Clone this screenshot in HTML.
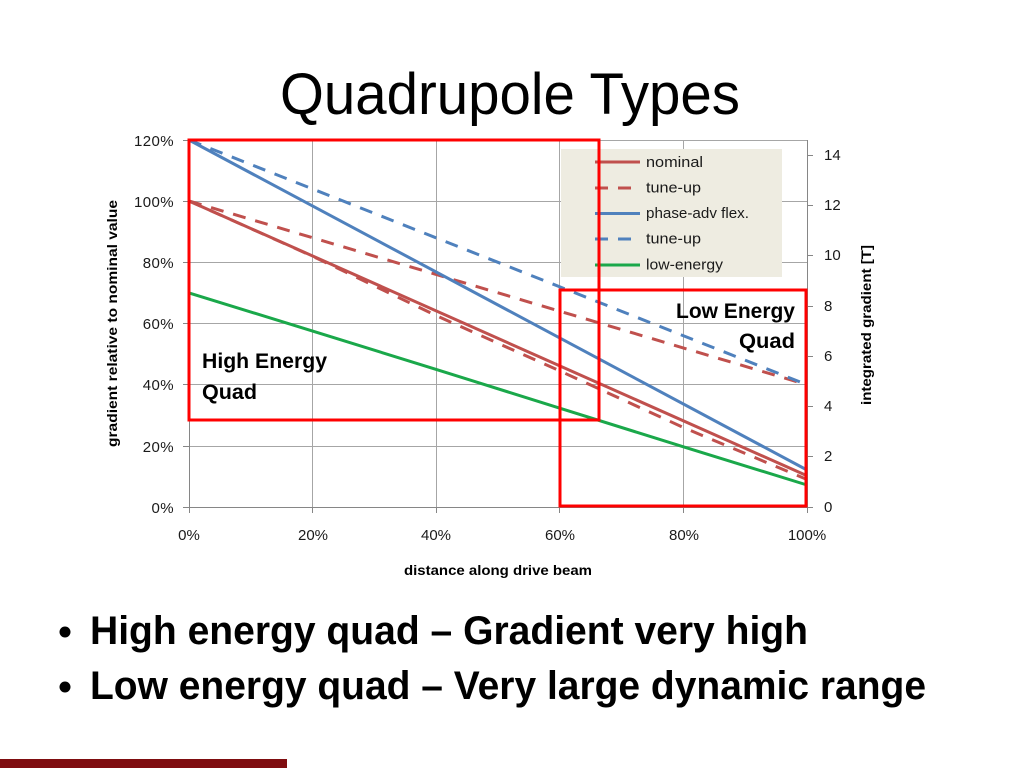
<!DOCTYPE html>
<html>
<head>
<meta charset="utf-8">
<style>
  html, body { margin:0; padding:0; background:#ffffff; }
  svg { display:block; }
  text { font-family: "Liberation Sans", sans-serif; }
</style>
</head>
<body>
<svg width="1024" height="768" viewBox="0 0 1024 768" xmlns="http://www.w3.org/2000/svg">
  <rect x="0" y="0" width="1024" height="768" fill="#ffffff"/>

  <!-- Title -->
  <text x="280" y="114" font-size="58" fill="#000" textLength="460" lengthAdjust="spacingAndGlyphs">Quadrupole Types</text>

  <!-- Gridlines -->
  <g stroke="#a6a6a6" stroke-width="1" fill="none">
    <line x1="189" y1="140.5" x2="807" y2="140.5"/>
    <line x1="189" y1="201.5" x2="807" y2="201.5"/>
    <line x1="189" y1="262.5" x2="807" y2="262.5"/>
    <line x1="189" y1="323.5" x2="807" y2="323.5"/>
    <line x1="189" y1="384.5" x2="807" y2="384.5"/>
    <line x1="189" y1="446.5" x2="807" y2="446.5"/>
    <line x1="312.5" y1="140" x2="312.5" y2="507"/>
    <line x1="436.5" y1="140" x2="436.5" y2="507"/>
    <line x1="559.5" y1="140" x2="559.5" y2="507"/>
    <line x1="683.5" y1="140" x2="683.5" y2="507"/>
  </g>
  <!-- Axes -->
  <g stroke="#868686" stroke-width="1" fill="none">
    <line x1="189.5" y1="140" x2="189.5" y2="507"/>
    <line x1="189" y1="507.5" x2="807" y2="507.5"/>
    <line x1="807.5" y1="140" x2="807.5" y2="507"/>
    <!-- left ticks -->
    <line x1="183" y1="140.5" x2="189" y2="140.5"/>
    <line x1="183" y1="201.5" x2="189" y2="201.5"/>
    <line x1="183" y1="262.5" x2="189" y2="262.5"/>
    <line x1="183" y1="323.5" x2="189" y2="323.5"/>
    <line x1="183" y1="384.5" x2="189" y2="384.5"/>
    <line x1="183" y1="446.5" x2="189" y2="446.5"/>
    <line x1="183" y1="507.5" x2="189" y2="507.5"/>
    <!-- bottom ticks -->
    <line x1="189.5" y1="507" x2="189.5" y2="513"/>
    <line x1="312.5" y1="507" x2="312.5" y2="513"/>
    <line x1="436.5" y1="507" x2="436.5" y2="513"/>
    <line x1="559.5" y1="507" x2="559.5" y2="513"/>
    <line x1="683.5" y1="507" x2="683.5" y2="513"/>
    <line x1="807.5" y1="507" x2="807.5" y2="513"/>
    <!-- right ticks -->
    <line x1="807" y1="155.5" x2="813" y2="155.5"/>
    <line x1="807" y1="205.5" x2="813" y2="205.5"/>
    <line x1="807" y1="255.5" x2="813" y2="255.5"/>
    <line x1="807" y1="306.5" x2="813" y2="306.5"/>
    <line x1="807" y1="356.5" x2="813" y2="356.5"/>
    <line x1="807" y1="406.5" x2="813" y2="406.5"/>
    <line x1="807" y1="456.5" x2="813" y2="456.5"/>
    <line x1="807" y1="507.5" x2="813" y2="507.5"/>
  </g>

  <!-- Series -->
  <g fill="none" stroke-width="3" stroke-linejoin="round">
    <!-- green low-energy -->
    <polyline stroke="#1aa84a" points="189,292.9 312.6,331.1 436.2,369.4 559.8,408.2 683.4,446.8 807,485"/>
    <!-- nominal -->
    <line stroke="#c0504d" x1="189" y1="201" x2="807" y2="475.8"/>
    <!-- tune-up lower -->
    <polyline stroke="#c0504d" stroke-dasharray="13 10" points="189,201 312.6,256.2 436.2,315.6 559.8,370.9 683.4,427.5 807,479.5"/>
    <!-- tune-up upper (red) -->
    <line stroke="#c0504d" stroke-dasharray="13 10" x1="189" y1="201" x2="807" y2="384.7"/>
    <!-- phase-adv flex -->
    <line stroke="#4f81bd" x1="189" y1="140" x2="807" y2="470"/>
    <!-- tune-up blue -->
    <line stroke="#4f81bd" stroke-dasharray="13 10" x1="189" y1="140" x2="807" y2="384.7"/>
  </g>

  <!-- Legend -->
  <rect x="561" y="149" width="221" height="128" fill="#eeece1"/>
  <g stroke-width="3" fill="none">
    <line stroke="#c0504d" x1="595" y1="162" x2="640" y2="162"/>
    <line stroke="#c0504d" stroke-dasharray="13 10" x1="595" y1="188" x2="640" y2="188"/>
    <line stroke="#4f81bd" x1="595" y1="213.5" x2="640" y2="213.5"/>
    <line stroke="#4f81bd" stroke-dasharray="13 10" x1="595" y1="239" x2="640" y2="239"/>
    <line stroke="#1aa84a" x1="595" y1="265" x2="640" y2="265"/>
  </g>
  <g font-size="15" fill="#1a1a1a">
    <text x="646" y="167" textLength="57" lengthAdjust="spacingAndGlyphs">nominal</text>
    <text x="646" y="192.5" textLength="55" lengthAdjust="spacingAndGlyphs">tune-up</text>
    <text x="646" y="218" textLength="103" lengthAdjust="spacingAndGlyphs">phase-adv flex.</text>
    <text x="646" y="243.5" textLength="55" lengthAdjust="spacingAndGlyphs">tune-up</text>
    <text x="646" y="269.5" textLength="77" lengthAdjust="spacingAndGlyphs">low-energy</text>
  </g>

  <!-- Red boxes -->
  <g fill="none" stroke="#ff0000" stroke-width="3">
    <rect x="189" y="140" width="410" height="280"/>
    <rect x="560" y="290" width="246" height="216"/>
  </g>

  <!-- Box labels -->
  <g font-size="21" font-weight="bold" fill="#000">
    <text x="202" y="368" textLength="125" lengthAdjust="spacingAndGlyphs">High Energy</text>
    <text x="202" y="399" textLength="55" lengthAdjust="spacingAndGlyphs">Quad</text>
    <text x="676" y="318" textLength="119" lengthAdjust="spacingAndGlyphs">Low Energy</text>
    <text x="739" y="348" textLength="56" lengthAdjust="spacingAndGlyphs">Quad</text>
  </g>

  <!-- Left axis labels -->
  <g font-size="15" fill="#1a1a1a" text-anchor="end">
    <text x="174" y="146" letter-spacing="0.4">120%</text>
    <text x="174" y="207" letter-spacing="0.4">100%</text>
    <text x="174" y="268" letter-spacing="0.4">80%</text>
    <text x="174" y="329" letter-spacing="0.4">60%</text>
    <text x="174" y="390" letter-spacing="0.4">40%</text>
    <text x="174" y="452" letter-spacing="0.4">20%</text>
    <text x="174" y="513" letter-spacing="0.4">0%</text>
  </g>
  <!-- Bottom axis labels -->
  <g font-size="15" fill="#1a1a1a" text-anchor="middle">
    <text x="189" y="540">0%</text>
    <text x="313" y="540">20%</text>
    <text x="436" y="540">40%</text>
    <text x="560" y="540">60%</text>
    <text x="684" y="540">80%</text>
    <text x="807" y="540">100%</text>
  </g>
  <!-- Right axis labels -->
  <g font-size="15" fill="#1a1a1a">
    <text x="824" y="160">14</text>
    <text x="824" y="210">12</text>
    <text x="824" y="260">10</text>
    <text x="824" y="311">8</text>
    <text x="824" y="361">6</text>
    <text x="824" y="411">4</text>
    <text x="824" y="461">2</text>
    <text x="824" y="512">0</text>
  </g>

  <!-- Axis titles -->
  <text transform="translate(117,323.5) rotate(-90)" text-anchor="middle" font-size="13.5" font-weight="bold" fill="#000" textLength="247" lengthAdjust="spacingAndGlyphs">gradient relative to nominal value</text>
  <text transform="translate(871,325) rotate(-90)" text-anchor="middle" font-size="13.5" font-weight="bold" fill="#000" textLength="160" lengthAdjust="spacingAndGlyphs">integrated gradient [T]</text>
  <text x="404" y="575" font-size="14" font-weight="bold" fill="#000" textLength="188" lengthAdjust="spacingAndGlyphs">distance along drive beam</text>

  <!-- Bullets -->
  <circle cx="65" cy="632" r="5.5" fill="#000"/>
  <circle cx="65" cy="687" r="5.5" fill="#000"/>
  <text x="90" y="644" font-size="40" font-weight="bold" fill="#000" textLength="718" lengthAdjust="spacingAndGlyphs">High energy quad – Gradient very high</text>
  <text x="90" y="699" font-size="40" font-weight="bold" fill="#000" textLength="836" lengthAdjust="spacingAndGlyphs">Low energy quad – Very large dynamic range</text>

  <!-- Bottom bar -->
  <rect x="0" y="759" width="287" height="9" fill="#7f0d10"/>
</svg>
</body>
</html>
